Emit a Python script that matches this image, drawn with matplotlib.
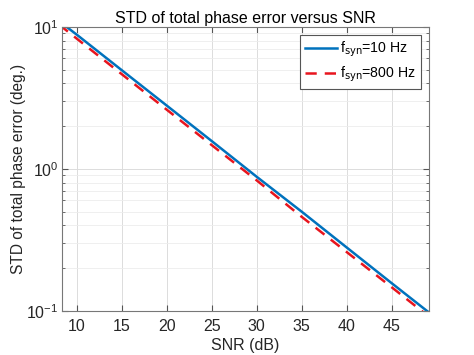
import matplotlib
matplotlib.use("Agg")
import matplotlib.pyplot as plt
from matplotlib.ticker import LogLocator, NullFormatter, FixedLocator

plt.rcParams['font.family'] = ['Liberation Sans', 'DejaVu Sans']

snr = [8, 10, 15, 20, 25, 30, 35, 40, 45, 50]
std_10hz = [11.0, 8.8, 4.95, 2.79, 1.57, 0.88, 0.50, 0.28, 0.157, 0.0885]
std_800hz = [10.4, 8.25, 4.64, 2.61, 1.47, 0.83, 0.46, 0.26, 0.147, 0.0827]
xticks = [10, 15, 20, 25, 30, 35, 40, 45]
labels = ['f$_{\\rm syn}$=10 Hz', 'f$_{\\rm syn}$=800 Hz']

fig = plt.figure(figsize=(4.74, 3.55), dpi=100)
ax = fig.add_axes([0.1308, 0.124, 0.7742, 0.800])

ax.plot(snr, std_10hz, color='#0072BD', lw=1.8, label=labels[0])
ax.plot(snr, std_800hz, color='#E8151E', lw=1.8, ls=(0, (4.5, 3.2)), label=labels[1])

ax.set_yscale('log')
ax.set_xlim(8.33, 49.15)
ax.set_ylim(0.1, 10)
ax.xaxis.set_major_locator(FixedLocator(xticks))
ax.yaxis.set_major_locator(LogLocator(base=10, numticks=10))
ax.yaxis.set_minor_locator(LogLocator(base=10, subs=range(2, 10), numticks=20))
ax.yaxis.set_minor_formatter(NullFormatter())

ax.grid(True, which='major', color='#dcdcdc', lw=0.7)
ax.grid(True, which='minor', color='#ececec', lw=0.6)
ax.set_axisbelow(True)

tc = '#262626'
ax.tick_params(which='both', direction='in', top=True, right=True, colors='#555555',
               labelcolor=tc, labelsize=11.5)
ax.tick_params(which='major', length=4)
ax.tick_params(axis='x', which='major', pad=6)
ax.tick_params(axis='y', which='major', pad=2.5)
ax.tick_params(which='minor', length=2.2)
for s in ax.spines.values():
    s.set_color('#777777')
    s.set_linewidth(0.8)

ax.set_title('STD of total phase error versus SNR', fontsize=11.5, color='black', pad=3)
ax.set_xlabel('SNR (dB)', fontsize=11.5, color=tc, labelpad=3)
ax.set_ylabel('STD of total phase error (deg.)', fontsize=11.2, color=tc, labelpad=0)

leg = ax.legend(loc='upper right', fontsize=10.2, frameon=True, fancybox=False,
                edgecolor='#555555', framealpha=1, borderaxespad=0.55,
                handlelength=2.3, handletextpad=0.2, borderpad=0.35, labelspacing=0.4)
leg.get_frame().set_linewidth(0.8)

fig.savefig('out.png', dpi=100)
